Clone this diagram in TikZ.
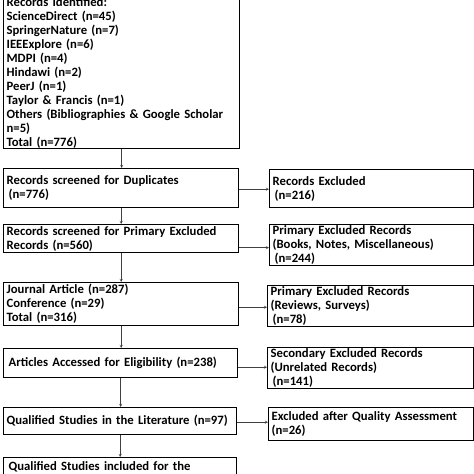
\documentclass[tikz,border=0pt]{standalone}
\usepackage{fontspec}
\setmainfont{Carlito}
\usepackage{tikz}
\definecolor{linkgray}{rgb}{0.25, 0.25, 0.25}

\begin{document}
\begin{tikzpicture}[x=1pt, y=-1pt,
    recbox/.style={
        draw=black,
        line width=1.3pt,
        text=black,
        anchor=north west,
        align=left,
        inner xsep=3pt,
        inner ysep=1pt,
        font=\fontsize{12.7}{14}\selectfont\bfseries
    },
    link/.style={->, >=stealth, thin, draw=linkgray}
]
    \useasboundingbox (0,0) rectangle (474,474);
    \clip (0,0) rectangle (474,474);

    % main column
    \node(ident)[recbox, anchor=south west, inner ysep=0pt, text width=230pt] at (3,149)
        {Records Identified:\\ScienceDirect (n=45)\\SpringerNature (n=7)\\IEEExplore (n=6)\\MDPI (n=4)\\Hindawi (n=2)\\PeerJ (n=1)\\Taylor \& Francis (n=1)\\Others (Bibliographies \& Google Scholar\\n=5)\\Total (n=776)};
    \node(dup)[recbox, text width=229pt, minimum height=39pt] at (3,168)
        {Records screened for Duplicates\\\hspace*{2pt}(n=776)\\[-4pt]};
    \node(prim)[recbox, text width=229pt, minimum height=28pt] at (3,224)
        {Records screened for Primary Excluded\\Records (n=560)};
    \node(journal)[recbox, text width=229pt, minimum height=43pt] at (3,282)
        {Journal Article (n=287)\\Conference (n=29)\\Total (n=316)};
    \node(elig)[recbox, text width=228pt, minimum height=29pt] at (3,348)
        {\hspace*{2pt}Articles Accessed for Eligibility (n=238)\\[-6pt]};
    \node(qual)[recbox, text width=227pt, minimum height=27pt] at (3,407)
        {Qualified Studies in the Literature (n=97)};
    \node(final)[recbox, text width=227pt, minimum height=34pt] at (3,457)
        {\hspace*{2pt}Qualified Studies included for the\\\strut};

    % excluded column
    \node(excl)[recbox, text width=198pt, minimum height=38pt] at (269,169)
        {Records Excluded\\\hspace*{2pt}(n=216)};
    \node(primexcl)[recbox, text width=198pt, minimum height=33pt] at (269,224)
        {Primary Excluded Records\\(Books, Notes, Miscellaneous)\\\hspace*{2pt}(n=244)};
    \node(revexcl)[recbox, text width=200pt, minimum height=41pt] at (267,285)
        {Primary Excluded Records\\(Reviews, Surveys)\\\hspace*{2pt}(n=78)};
    \node(secexcl)[recbox, text width=200pt, minimum height=40pt] at (267,347)
        {Secondary Excluded Records\\(Unrelated Records)\\\hspace*{2pt}(n=141)};
    \node(qualexcl)[recbox, text width=199pt, minimum height=33pt] at (268,407)
        {Excluded after Quality Assessment\\(n=26)};

    \draw[link] (ident.south) -- (ident.south |- dup.north);
    \draw[link] (dup.south) -- (dup.south |- prim.north);
    \draw[link] (prim.south) -- (prim.south |- journal.north);
    \draw[link] (journal.south) -- (journal.south |- elig.north);
    \draw[link] (elig.south) -- (elig.south |- qual.north);
    \draw[link] (qual.south) -- (qual.south |- final.north);

    \draw[link] ([yshift=-1pt]dup.east) -- ([yshift=-1pt]dup.east -| excl.west);
    \draw[link] ([yshift=-9pt]prim.east) -- ([yshift=-9pt]prim.east -| primexcl.west);
    \draw[link] ([yshift=-3pt]journal.east) -- ([yshift=-3pt]journal.east -| revexcl.west);
    \draw[link] ([yshift=-4pt]elig.east) -- ([yshift=-4pt]elig.east -| secexcl.west);
    \draw[link] ([yshift=-1pt]qual.east) -- ([yshift=-1pt]qual.east -| qualexcl.west);
\end{tikzpicture}
\end{document}
